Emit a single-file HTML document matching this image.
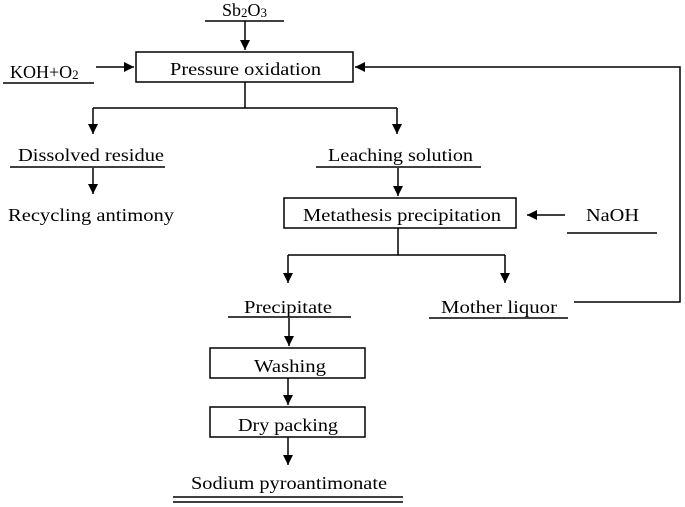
<!DOCTYPE html>
<html><head><meta charset="utf-8"><style>html,body{margin:0;padding:0;background:#fff}svg{display:block}</style></head>
<body>
<svg width="685" height="507" viewBox="0 0 685 507" xmlns="http://www.w3.org/2000/svg" font-family="Liberation Serif, serif" font-size="18" fill="#000">
<defs><marker id="a" viewBox="0 0 10 10" refX="10" refY="5" markerWidth="10" markerHeight="10" markerUnits="userSpaceOnUse" orient="auto"><path d="M0,0 L10,5 L0,10 z"/></marker></defs>
<g stroke="#000" stroke-width="1.5" fill="none">
<line x1="205" y1="21" x2="284" y2="21"/>
<line x1="245" y1="21" x2="245" y2="50" marker-end="url(#a)"/>
<rect x="136" y="52" width="217" height="30"/>
<line x1="3" y1="83" x2="94" y2="83"/>
<line x1="96" y1="67" x2="134" y2="67" marker-end="url(#a)"/>
<polyline points="574,302 680,302 680,67 355,67" marker-end="url(#a)"/>
<polyline points="245,82 245,108"/>
<line x1="93" y1="108" x2="397" y2="108"/>
<line x1="93" y1="108" x2="93" y2="134" marker-end="url(#a)"/>
<line x1="397" y1="108" x2="397" y2="134" marker-end="url(#a)"/>
<line x1="10" y1="167" x2="165" y2="167"/>
<line x1="93" y1="168" x2="93" y2="194" marker-end="url(#a)"/>
<line x1="316" y1="167" x2="481" y2="167"/>
<line x1="398" y1="168" x2="398" y2="196" marker-end="url(#a)"/>
<rect x="284" y="198" width="232" height="30"/>
<line x1="565" y1="215" x2="527" y2="215" marker-end="url(#a)"/>
<line x1="567" y1="233" x2="657" y2="233"/>
<line x1="398" y1="228" x2="398" y2="255"/>
<line x1="288" y1="255" x2="505" y2="255"/>
<line x1="288" y1="255" x2="288" y2="283" marker-end="url(#a)"/>
<line x1="505" y1="255" x2="505" y2="283" marker-end="url(#a)"/>
<line x1="228" y1="317" x2="351" y2="317"/>
<line x1="429" y1="318" x2="568" y2="318"/>
<line x1="289" y1="318" x2="289" y2="346" marker-end="url(#a)"/>
<rect x="210" y="348" width="155" height="30"/>
<line x1="288" y1="378" x2="288" y2="405" marker-end="url(#a)"/>
<rect x="210" y="407" width="155" height="30"/>
<line x1="288" y1="437" x2="288" y2="465" marker-end="url(#a)"/>
<line x1="173" y1="497" x2="403" y2="497"/>
<line x1="173" y1="502" x2="403" y2="502"/>
</g>
<g stroke="none">
<text x="222" y="16">Sb<tspan font-size="13" dy="1">2</tspan><tspan dy="-1">O</tspan><tspan font-size="13" dy="1">3</tspan></text>
<text x="10" y="78">KOH+O<tspan font-size="13" dy="1">2</tspan></text>
<text x="170" y="75" textLength="151" lengthAdjust="spacingAndGlyphs">Pressure oxidation</text>
<text x="18" y="161" textLength="146" lengthAdjust="spacingAndGlyphs">Dissolved residue</text>
<text x="8" y="221" textLength="166" lengthAdjust="spacingAndGlyphs">Recycling antimony</text>
<text x="328" y="161" textLength="145" lengthAdjust="spacingAndGlyphs">Leaching solution</text>
<text x="303" y="221" textLength="198" lengthAdjust="spacingAndGlyphs">Metathesis precipitation</text>
<text x="586" y="221" textLength="53" lengthAdjust="spacingAndGlyphs">NaOH</text>
<text x="244" y="313" textLength="88" lengthAdjust="spacingAndGlyphs">Precipitate</text>
<text x="441" y="313" textLength="116" lengthAdjust="spacingAndGlyphs">Mother liquor</text>
<text x="254" y="372" textLength="72" lengthAdjust="spacingAndGlyphs">Washing</text>
<text x="238" y="431" textLength="100" lengthAdjust="spacingAndGlyphs">Dry packing</text>
<text x="191" y="489" textLength="196" lengthAdjust="spacingAndGlyphs">Sodium pyroantimonate</text>
</g>
</svg>
</body></html>
